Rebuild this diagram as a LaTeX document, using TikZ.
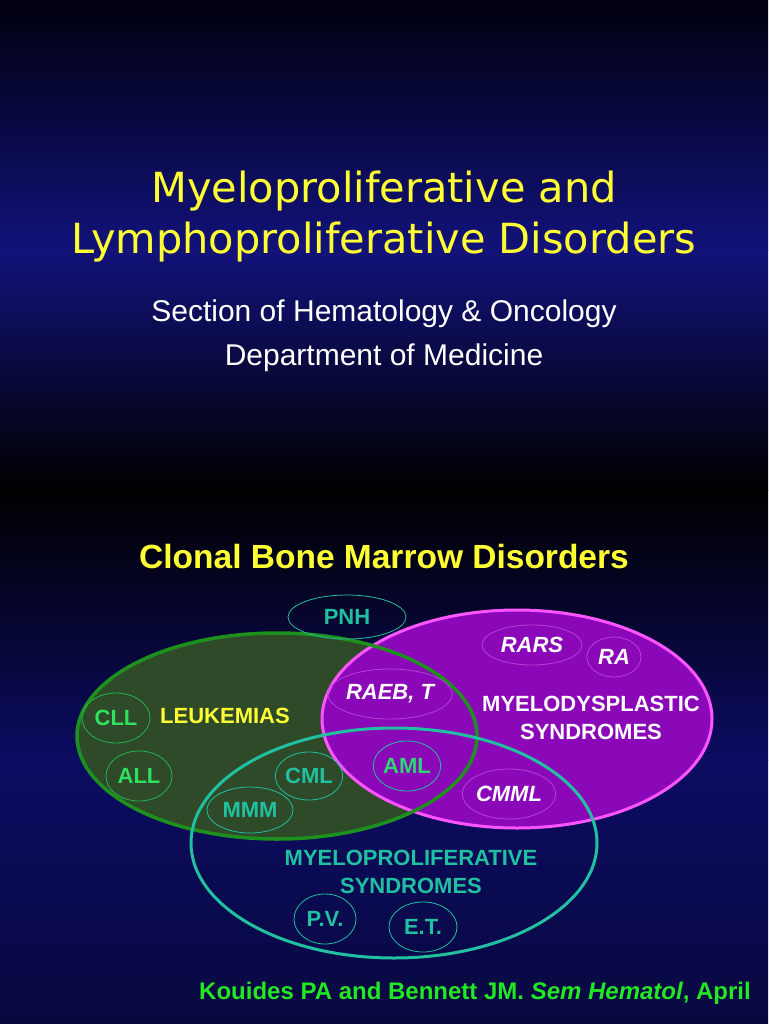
\documentclass[tikz,border=0pt]{standalone}
\usepackage{fontspec}
\usetikzlibrary{shapes.geometric}
\setmainfont{Liberation Sans}
\newfontfamily\dejavu{DejaVu Sans}
\definecolor{bgA}{HTML}{00000E}
\definecolor{bgB}{HTML}{12127A}
\definecolor{bgC}{HTML}{0C0C62}
\definecolor{bgD}{HTML}{080840}
\begin{document}
\begin{tikzpicture}[x=1pt,y=-1pt,
  lab/.style={font=\bfseries\fontsize{22}{25}\selectfont,align=center},
  it/.style={font=\bfseries\itshape\fontsize{22}{25}\selectfont},
  sm/.style={ellipse,draw,line width=0.8pt,inner sep=0pt},
  ]
\definecolor{tl}{HTML}{20C0A0}
\definecolor{gr}{HTML}{30E060}
\definecolor{pk}{HTML}{FF55FF}
\definecolor{pu}{HTML}{8A08B8}
\definecolor{gf}{HTML}{2E4A28}
\definecolor{gs}{HTML}{1E901E}
\definecolor{ps}{HTML}{B840D8}
\definecolor{yl}{HTML}{FFFF33}
\definecolor{cg}{HTML}{22E822}
\useasboundingbox (0,0) rectangle (768,1024);
\fill[top color=bgA,bottom color=bgB] (0,-0.5) rectangle (768,250.5);
\fill[top color=bgB,bottom color=black] (0,250) rectangle (768,490.5);
\fill[top color=black,bottom color=bgC] (0,490) rectangle (768,760.5);
\fill[top color=bgC,bottom color=bgD] (0,760) rectangle (768,1024.5);
\begin{scope}
\clip (0,0) rectangle (768,1024);
\node[text=yl,font=\dejavu\fontsize{41.5}{44}\selectfont] (t1) at (384,191) {Myeloproliferative and};
\node[text=yl,font=\dejavu\fontsize{41.5}{44}\selectfont] (t2) at (384,242) {Lymphoproliferative Disorders};
\node[text=white,font=\fontsize{30}{32}\selectfont] (s1) at (384,314) {Section of Hematology \& Oncology};
\node[text=white,font=\fontsize{30}{32}\selectfont] (s2) at (384,358) {Department of Medicine};
\node[text=yl,font=\bfseries\fontsize{33.5}{36}\selectfont] (cb) at (384,557) {Clonal Bone Marrow Disorders};
\fill[gf] (277,736) ellipse (200 and 103);
\fill[pu] (517,719) ellipse (195 and 109);
\draw[pk,line width=3pt] (517,719) ellipse (195 and 109);
\draw[gs,line width=3.5pt] (277,736) ellipse (200 and 103);
\draw[tl,line width=3pt] (394,843) ellipse (203 and 115);
\node[sm,draw=tl,text=tl,minimum width=118,minimum height=44,lab] (pnh) at (347,617) {PNH};
\node[sm,draw=ps,text=white,minimum width=100,minimum height=40,it] (rars) at (532,645) {RARS};
\node[sm,draw=ps,text=white,minimum width=54,minimum height=40,it] (ra) at (614,657) {RA};
\node[sm,draw=ps,text=white,minimum width=100,minimum height=50,it] (raeb) at (390,694) {RAEB, T};
\node[sm,draw=ps,text=white,minimum width=86,minimum height=50,it] (cmml) at (509,794) {CMML};
\node[sm,draw=gr!80!black,text=gr,minimum width=68,minimum height=50,lab] (cll) at (116,718) {CLL};
\node[sm,draw=gr!80!black,text=gr,minimum width=66,minimum height=50,lab] (all) at (139,776) {ALL};
\node[sm,draw=tl,text=tl,minimum width=66,minimum height=48,lab] (cml) at (309,776) {CML};
\node[sm,draw=tl,text=tl,minimum width=86,minimum height=46,lab] (mmm) at (250,810) {MMM};
\node[sm,draw=tl,text=gr!70!tl,minimum width=64,minimum height=50,lab] (aml) at (407,766) {AML};
\node[sm,draw=tl,text=tl,minimum width=62,minimum height=50,lab] (pv) at (325,919) {P.V.};
\node[sm,draw=tl,text=tl,minimum width=68,minimum height=50,lab] (et) at (423,927) {E.T.};
\node[lab,text=yl] (leuk) at (225,716) {LEUKEMIAS};
\node[lab,text=white,font=\bfseries\fontsize{22}{28}\selectfont] (mds) at (591,718) {MYELODYSPLASTIC\\SYNDROMES};
\node[lab,text=tl,font=\bfseries\fontsize{22}{28}\selectfont] (mps) at (411,872) {MYELOPROLIFERATIVE\\SYNDROMES};
\node[anchor=west,text=cg,font=\bfseries\fontsize{24}{26}\selectfont,inner sep=0] (cit) at (199,993) {Kouides PA and Bennett JM. \textit{Sem Hematol}, April};
\end{scope}
\end{tikzpicture}
\end{document}
